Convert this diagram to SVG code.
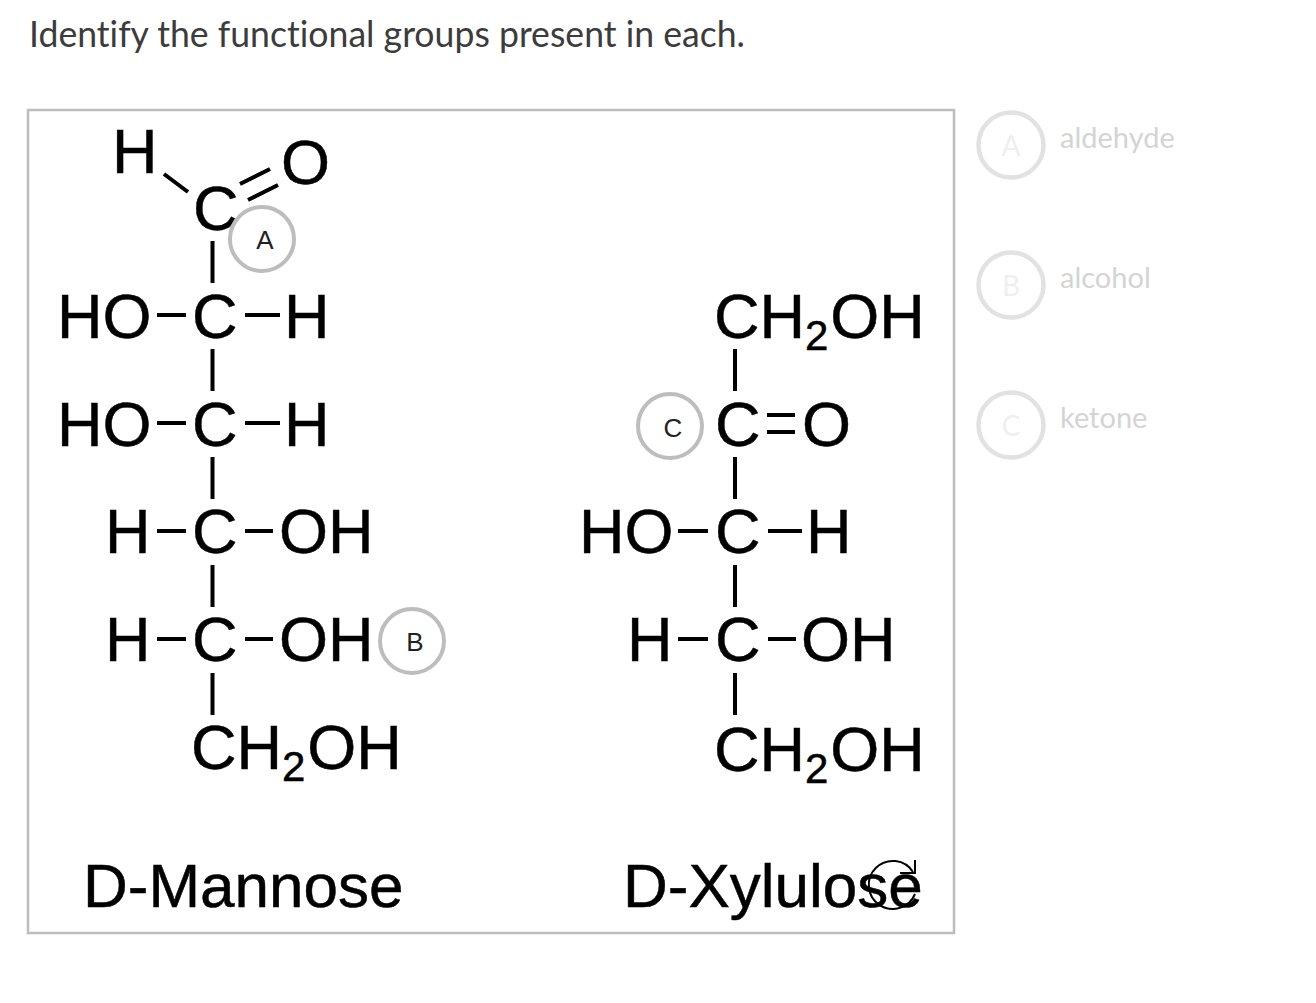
<svg xmlns="http://www.w3.org/2000/svg" width="1316" height="1003" viewBox="0 0 1316 1003">
<style>
.t{font-family:"Liberation Sans",Arial,sans-serif;font-size:63px;fill:#000;stroke:#000;stroke-width:.5}
.d{font-size:62px}
.s{font-size:42px}
.n{font-family:"Liberation Sans",Arial,sans-serif;font-size:26px;fill:#222;text-anchor:middle}
.b{stroke:#000;stroke-width:4;fill:none}
.r{stroke:#000;stroke-width:2;fill:none}
.l{font-family:Lato,"Open Sans",sans-serif;font-variant-ligatures:none}
.c{fill:#fff;stroke:#bdbdbd;stroke-width:4}
.o{fill:#fff;stroke:#e2e2e2;stroke-width:4.500;filter:url(#soft)}
.ol{font-family:Lato,sans-serif;font-size:28px;fill:#efefef;text-anchor:middle}
.ot{font-family:Lato,sans-serif;font-size:29px;fill:#d4d4d4}
</style>
<defs><filter id="soft" x="-20%" y="-20%" width="140%" height="140%"><feGaussianBlur stdDeviation=".7"/></filter></defs>
<rect width="1316" height="1003" fill="#fff"/>
<text id="title" class="l" x="29" y="47" font-size="36" fill="#3c3c3c" textLength="716" lengthAdjust="spacingAndGlyphs">Identify the functional groups present in each.</text>
<rect id="frame" x="28" y="110" width="926" height="823" fill="#fff" stroke="#bdbdbd" stroke-width="2.500"/>
<g id="connectors" class="b">
<path d="M164 174L188 192M240 184L270 169M248 200L278 185"/>
<path d="M212.500 241V283M212.500 349V391M212.500 457V499M212.500 565V607M212.500 673V715"/>
<path d="M157 315H186M245 315H280M157 423H186M245 423H280"/>
<path d="M157 531H186M245 531H273M157 639H186M245 639H273"/>
<path d="M735 349V391M735 457V499M735 565V607M735 673V715"/>
<path d="M678 531H708M768 531H802M678 639H708M768 639H796"/>
<path d="M767 415H795M767 432H795"/>
</g>
<g id="mannose">
<text class="t" x="112" y="173">H</text>
<text class="t" x="281" y="184">O</text>
<text class="t" x="193" y="230">C</text>
<text class="t" x="57" y="338">HO</text><text class="t" x="192" y="338">C</text><text class="t" x="284" y="338">H</text>
<text class="t" x="57" y="446">HO</text><text class="t" x="192" y="446">C</text><text class="t" x="284" y="446">H</text>
<text class="t" x="105" y="553">H</text><text class="t" x="192" y="553">C</text><text class="t" x="279" y="553">OH</text>
<text class="t" x="105" y="661">H</text><text class="t" x="192" y="661">C</text><text class="t" x="279" y="661">OH</text>
<text class="t" x="191" y="769">CH<tspan class="s" dy="12">2</tspan><tspan dy="-12" dx="2">OH</tspan></text>
<text class="t d" x="83" y="907">D-Mannose</text>
</g>
<g id="xylulose">
<text class="t" x="714" y="338">CH<tspan class="s" dy="12">2</tspan><tspan dy="-12" dx="2">OH</tspan></text>
<text class="t" x="715" y="446">C</text><text class="t" x="802" y="446">O</text>
<text class="t" x="579" y="553">HO</text><text class="t" x="715" y="553">C</text><text class="t" x="806" y="553">H</text>
<text class="t" x="627" y="661">H</text><text class="t" x="715" y="661">C</text><text class="t" x="801" y="661">OH</text>
<text class="t" x="714" y="771">CH<tspan class="s" dy="12">2</tspan><tspan dy="-12" dx="2">OH</tspan></text>
<text class="t d" x="623" y="907">D-Xylulose</text>
<path class="r" d="M915 894A24 24 0 1 1 913 872M915 860V873H900"/>
</g>
<g id="marker-a"><circle class="c" cx="262" cy="239" r="32"/><text class="n" x="265" y="249">A</text></g>
<g id="marker-b"><circle class="c" cx="412" cy="641" r="32"/><text class="n" x="415" y="651">B</text></g>
<g id="marker-c"><circle class="c" cx="670" cy="426" r="32"/><text class="n" x="673" y="437">C</text></g>
<g id="option-a"><circle class="o" cx="1011" cy="145" r="32.500"/><text class="ol" x="1011" y="156">A</text><text class="ot" x="1060" y="148">aldehyde</text></g>
<g id="option-b"><circle class="o" cx="1011" cy="285" r="32.500"/><text class="ol" x="1011" y="296">B</text><text class="ot" x="1060" y="288">alcohol</text></g>
<g id="option-c"><circle class="o" cx="1011" cy="425" r="32.500"/><text class="ol" x="1011" y="436">C</text><text class="ot" x="1060" y="428">ketone</text></g>
</svg>
